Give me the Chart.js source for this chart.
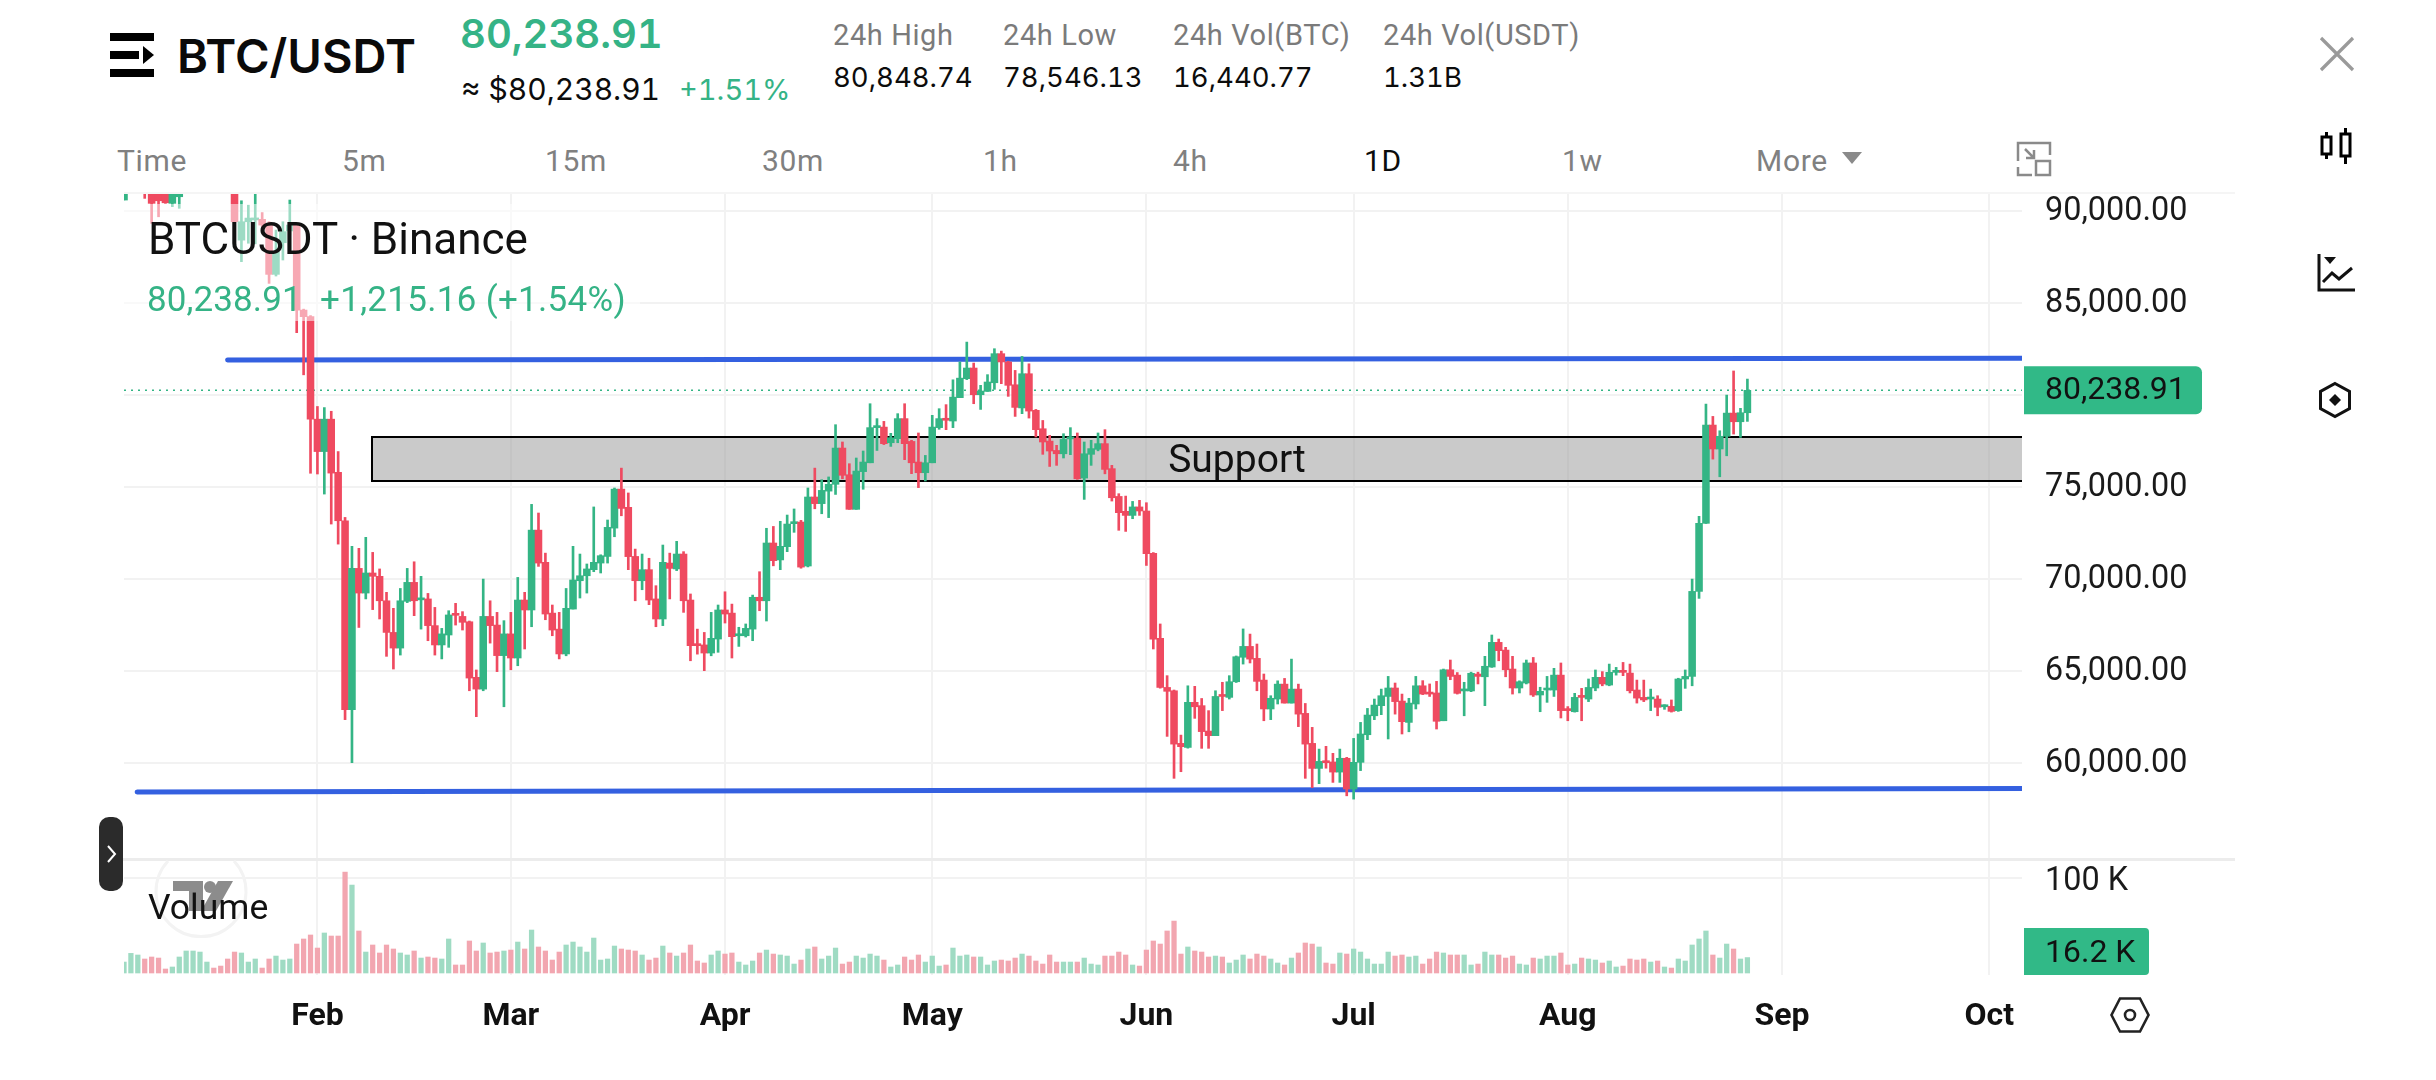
<!DOCTYPE html>
<html>
<head>
<meta charset="utf-8">
<title>BTC/USDT</title>
<script src="https://cdn.jsdelivr.net/npm/chart.js@4"></script>
<style>
  html, body { margin: 0; padding: 0; background: #fff; }
  #page { position: relative; width: 2436px; height: 1080px; overflow: hidden; background: #fff; font-family: Inter, sans-serif; font-variant-numeric: tabular-nums; }
  #page canvas { position: absolute; left: 0; }
  .t { position: absolute; white-space: nowrap; transform: translateY(-50%); line-height: 1; }
  .green { color: #35b386; }
  .hd { font-size: 29px; color: #7b7b7b; font-family: Roboto, sans-serif; letter-spacing: 0.6px; }
  .val { font-size: 27.5px; color: #0c0c0c; font-family: Inter, sans-serif; }
  .tab { font-size: 30px; color: #808080; font-family: Roboto, sans-serif; letter-spacing: 0.7px; }
  .line { position: absolute; }
  svg { position: absolute; overflow: visible; }
</style>
</head>
<body>
<div id="page">
  <canvas id="priceChart" width="2436" height="665" style="top:194px"></canvas>
  <canvas id="volumeChart" width="2436" height="220" style="top:860px"></canvas>

  <div class="line" style="left:124px;top:192px;width:2111px;height:2px;background:#f5f5f5"></div>
  <div class="line" style="left:100px;top:858px;width:2135px;height:3px;background:#ececec"></div>

  <!-- cabecera -->
  <svg style="left:110px;top:33px" width="44" height="44" viewBox="0 0 44 44">
    <rect x="0" y="0" width="44" height="8" fill="#000"/>
    <rect x="0" y="18" width="29" height="8" fill="#000"/>
    <rect x="0" y="36" width="44" height="8" fill="#000"/>
    <path d="M33 13 L44 22 L33 31 Z" fill="#000"/>
  </svg>
  <div class="t" style="left:177px;top:55px;font-size:47px;font-weight:600;color:#0a0a0a;font-family:Inter,sans-serif">BTC/USDT</div>
  <div class="t green" style="left:460px;top:34px;font-size:40px;font-weight:600;font-family:Inter,sans-serif">80,238.91</div>
  <div class="t" style="left:461px;top:89px;font-size:30px;color:#0c0c0c;font-family:Inter,sans-serif">≈ $80,238.91</div>
  <div class="t green" style="left:679px;top:89px;font-size:29px;font-family:Inter,sans-serif">+1.51%</div>

  <div class="t hd" style="left:833px;top:35px">24h High</div>
  <div class="t val" style="left:833px;top:78px">80,848.74</div>
  <div class="t hd" style="left:1003px;top:35px">24h Low</div>
  <div class="t val" style="left:1003px;top:78px">78,546.13</div>
  <div class="t hd" style="left:1173px;top:35px">24h Vol(BTC)</div>
  <div class="t val" style="left:1173px;top:78px">16,440.77</div>
  <div class="t hd" style="left:1383px;top:35px">24h Vol(USDT)</div>
  <div class="t val" style="left:1383px;top:78px">1.31B</div>

  <div class="t tab" style="left:117px;top:161px">Time</div>
  <div class="t tab" style="left:342px;top:161px">5m</div>
  <div class="t tab" style="left:545px;top:161px">15m</div>
  <div class="t tab" style="left:762px;top:161px">30m</div>
  <div class="t tab" style="left:983px;top:161px">1h</div>
  <div class="t tab" style="left:1173px;top:161px">4h</div>
  <div class="t tab" style="left:1364px;top:161px;color:#0c0c0c">1D</div>
  <div class="t tab" style="left:1562px;top:161px">1w</div>
  <div class="t tab" style="left:1756px;top:161px">More</div>
  <svg style="left:1842px;top:152px" width="20" height="12" viewBox="0 0 20 12"><path d="M0 0 H20 L10 12 Z" fill="#8a8a8a"/></svg>
  <svg style="left:2016px;top:141px" width="36" height="36" viewBox="0 0 36 36" fill="none" stroke="#8a8a8a" stroke-width="2.5">
    <path d="M2 20 V2 H34 V14"/><path d="M2 26 V34 H16"/><rect x="20" y="20" width="14" height="14"/><path d="M9 8 L18 17 M18 9 V17 H10"/>
  </svg>

  <svg style="left:2320px;top:38px" width="34" height="32" viewBox="0 0 34 32" stroke="#9a9a9a" stroke-width="3.2"><path d="M1 0 L33 32 M33 0 L1 32"/></svg>
  <svg style="left:2320px;top:128px" width="32" height="36" viewBox="0 0 32 36" fill="none" stroke="#000" stroke-width="3">
    <rect x="2" y="9" width="9" height="17"/><path d="M6.5 4 V9 M6.5 26 V31"/>
    <rect x="21" y="6" width="9" height="22"/><path d="M25.5 0 V6 M25.5 28 V36"/>
  </svg>
  <svg style="left:2317px;top:254px" width="38" height="38" viewBox="0 0 38 38" fill="none" stroke="#111" stroke-width="3">
    <path d="M2 0 V36 H38"/><path d="M6 28 L15 19 L22 25 L35 14"/><path d="M7 3 H19 L13 10 Z" fill="#111" stroke="none"/>
  </svg>
  <svg style="left:2319px;top:382px" width="32" height="36" viewBox="0 0 32 36" fill="none" stroke="#111" stroke-width="3">
    <path d="M16 1.5 L30.5 9.5 V26.5 L16 34.5 L1.5 26.5 V9.5 Z"/><path d="M16 12 L22 18 L16 24 L10 18 Z" fill="#111" stroke="none"/>
  </svg>
  <svg style="left:2110px;top:997px" width="40" height="36" viewBox="0 0 40 36" fill="none" stroke="#222" stroke-width="2.6">
    <path d="M10 1.5 H30 L38.5 18 L30 34.5 H10 L1.5 18 Z"/><circle cx="20" cy="18" r="5"/>
  </svg>

  <!-- leyenda -->
  <div class="t" style="left:148px;top:239px;font-size:44px;color:#111;font-family:Roboto,sans-serif">BTCUSDT · Binance</div>
  <div class="t green" style="left:147px;top:299px;font-size:35px;letter-spacing:0.1px;font-family:Roboto,sans-serif">80,238.91</div>
  <div class="t green" style="left:320px;top:299px;font-size:35px;letter-spacing:0.3px;font-family:Roboto,sans-serif">+1,215.16 (+1.54%)</div>

  <!-- marca de agua y tirador -->
  <svg style="left:156px;top:861px" width="92" height="92" viewBox="0 0 92 92" fill="none">
    <path d="M12 0 A45 45 0 1 0 78 0" stroke="#f3f3f3" stroke-width="3"/>
    <path d="M17 20 H47 V50 H33 V30 H17 Z" fill="#8c8c8c"/>
    <circle cx="54" cy="26" r="6" fill="#8c8c8c"/>
    <path d="M62 20 H77 L60 50 H45 Z" fill="#8c8c8c"/>
  </svg>
  <div class="t" style="left:148px;top:908px;font-size:35.5px;color:#111;font-family:Roboto,sans-serif">Volume</div>
  <div style="position:absolute;left:99px;top:817px;width:24px;height:74px;background:#2b2b2b;border-radius:10px"></div>
  <svg style="left:107px;top:845px" width="10" height="18" viewBox="0 0 10 18" fill="none" stroke="#fff" stroke-width="2"><path d="M1 1 L8 9 L1 17"/></svg>
</div>

<script>
// velas diarias
const opens = [
  90580,91500,93300,93700,91300,91000,90900,90400,90760,91500,
  92500,94000,95500,96500,95800,95200,93500,88400,89400,89500,
  89530,89220,86540,88260,88900,89220,84600,84240,78670,76910,
  78670,75780,73150,62880,70560,69220,70310,70130,68800,67080,
  66230,68770,69800,68850,68900,67450,66400,66940,68080,67950,
  67660,64640,64000,67950,67480,65820,67000,65690,68840,68300,
  72640,70890,68130,67260,65910,68350,69890,70160,70490,70850,
  71210,72750,74870,73880,71210,69890,70490,68900,67810,70850,
  70530,71340,68840,66410,66400,65960,66720,68300,68130,66900,
  66900,67260,68990,68800,71940,71020,71740,72990,73080,70690,
  74440,74080,74760,75130,77100,75650,73770,75820,76300,78210,
  78240,77390,77610,78700,77460,76340,75760,76300,78210,78700,
  78570,79840,80870,81450,80000,80180,80650,82230,81780,80540,
  79280,81140,79150,78150,77480,76970,76790,77600,77640,75470,
  76760,77030,77340,75980,74470,73660,73440,73900,73680,71380,
  66760,64090,63910,61050,60830,63280,63100,61720,61470,63660,
  63550,64400,65730,66320,65670,64490,62920,63460,64270,63240,
  64000,62680,61050,59690,60060,60040,59490,60240,58570,60020,
  61520,62550,63100,63600,64060,63350,62190,63190,64180,63790,
  63790,62280,65050,64760,63900,63900,64820,64670,65200,66540,
  66120,65090,64060,64330,65420,63680,63950,63950,64760,62880,
  62770,63600,63460,64060,64640,64220,64910,64960,64870,63950,
  63550,63460,63460,63040,63060,62830,64550,64690,69310,73010,
  78350,77050,77740,79000,78530,79020
];
const highs = [
  91800,93800,94500,94700,92000,91500,91200,91800,92000,93000,
  94600,96000,97200,97000,96400,95600,93800,90540,90300,91100,
  89900,89400,88950,89400,90580,89300,84650,84300,79360,79300,
  79100,76910,73330,71760,71650,72250,71430,70530,69260,68390,
  69470,70560,70920,70130,69200,68440,67300,68260,68660,68210,
  67700,65040,69980,68800,68170,67720,68170,70070,69260,74040,
  73570,71390,68570,68170,69470,71760,71340,70800,73900,71300,
  73190,74930,76010,74660,71610,71340,71110,69620,71830,71390,
  72030,71470,69170,67260,67080,68170,68570,69290,68620,67360,
  67540,69110,70380,72740,72840,73120,73460,73790,73170,74930,
  76010,75380,75530,78370,77430,76250,76560,76940,79510,78700,
  78550,77900,78970,79510,77520,77920,76700,78880,79240,79460,
  80810,81780,82860,81720,80510,81090,82500,82370,81820,81320,
  82080,81680,79200,78600,77790,77250,77880,78210,77920,77430,
  77520,77920,78100,76160,74620,74490,74200,74260,74130,71420,
  67540,64730,63950,61500,64180,64150,63490,62830,63910,64370,
  64730,65800,67270,66990,66450,64820,63640,64450,64580,65630,
  64270,63220,61920,60740,60890,60510,60740,60290,61320,62190,
  62950,63460,64000,64690,64330,63730,63500,64690,64460,64280,
  64420,65090,65580,64900,64370,64920,64920,65780,66940,66720,
  66270,65780,64450,65580,65720,64100,64690,65130,65420,63050,
  63770,64040,64550,65040,64950,65360,65180,65450,65360,64490,
  64490,64000,63640,63150,63410,64590,65040,69980,73390,79490,
  78820,78040,79980,81290,79260,80850
];
const lows = [
  90580,91300,92800,90670,89310,89670,90400,90220,90130,91300,
  92200,93800,95200,95300,94700,92900,89300,87230,88230,88200,
  89100,86050,86450,87320,88700,83370,81080,75730,75690,74600,
  72970,71880,62340,60000,67350,68900,68320,67810,65780,65090,
  65850,68700,67990,67260,66630,65850,65640,66270,67480,67210,
  63910,62500,63910,66500,64950,63040,65050,65270,66180,67390,
  70670,67770,66900,65640,65810,68350,68950,69220,70380,70310,
  70850,72280,73420,70490,68800,69400,68590,67390,67450,68900,
  70440,68170,65540,65900,65000,65810,66000,67590,65690,66320,
  66830,66630,68260,67700,70700,70490,71470,72520,70570,70640,
  73800,73530,73320,74580,75430,73770,73770,74860,76300,76970,
  77290,77190,77390,76470,75710,74950,75310,76300,78120,78100,
  78210,79840,80820,79510,79200,80180,80290,80600,79910,78820,
  78970,78730,77700,76760,76100,76160,76560,76740,75400,74310,
  76160,76950,75700,74220,72630,72570,73260,73440,70720,66180,
  64050,61430,59150,59510,60790,62410,60780,60780,61470,62830,
  63460,64360,65360,65420,63910,62280,62340,63190,63240,63240,
  61960,59150,58640,58860,59700,58930,58930,58200,58020,59570,
  61250,62340,62610,61290,62640,61560,61680,62920,63700,63600,
  61830,62280,64510,63730,62550,63860,64280,63100,65180,65540,
  64670,63730,63790,64280,63600,62770,63280,63600,62430,62280,
  62750,62280,63320,63910,64180,64180,64760,64730,63790,63240,
  63320,62830,62550,62900,62750,62790,64040,64180,68930,73000,
  76500,75540,76680,77860,77680,78550
];
const closes = [
  91500,93300,93700,91300,90400,90540,90430,91000,91500,92500,
  94000,95500,96500,95800,95200,93500,89400,89400,89600,89600,
  89220,86540,87770,88860,89220,84600,84240,78670,76910,78670,
  75740,73150,62880,70560,69220,70310,70130,68800,67080,66230,
  68800,69800,68800,68900,67450,66400,67000,68030,68010,67630,
  64600,64000,67950,67450,65820,67000,65690,68840,68300,72640,
  70850,68080,67210,65910,68390,69930,70160,70530,70890,71250,
  72790,74870,73820,71200,69890,70490,68840,67810,70890,70560,
  71340,68800,66360,66360,65960,66760,68300,68080,66850,66960,
  67300,68990,68800,71940,70980,71760,72970,73060,70630,74440,
  74080,74800,75130,77100,75620,73770,75850,76340,78210,78260,
  77340,77660,78700,77340,76300,75760,76300,78240,78700,78610,
  79870,80900,81450,80000,80200,80690,82230,81780,80510,79310,
  81140,79110,78100,77430,76940,76790,77570,77640,75430,76790,
  77070,77340,75940,74400,73590,73440,73900,73680,71360,66720,
  64090,63880,61010,60870,63280,63040,61690,61470,63600,63600,
  64400,65760,66320,65630,64420,62920,63500,64270,63240,64000,
  62640,61010,59690,60070,60000,59490,60240,58570,60020,61560,
  62590,63130,63640,64060,63320,62230,63240,64180,63730,63730,
  62250,65050,64690,63770,63950,64860,64690,65240,66540,66090,
  65050,64060,64400,65420,63680,63880,64000,64760,62830,62830,
  63550,63550,64090,64640,64280,64910,64960,64910,63910,63510,
  63410,63510,63010,63090,62790,64550,64690,69310,73010,78350,
  77050,77740,79000,78530,79020,80238.91
];
// volumen en miles de BTC
const volumes = [
  11.5,20.6,18.9,14.7,16.8,15.7,4.2,6.3,16.8,23.1,
  23.1,22.0,11.5,5.2,7.3,14.7,22.0,21.0,11.5,14.7,
  5.2,14.7,17.8,13.6,14.7,30.4,35.7,39.9,26.2,42.0,
  38.8,38.8,105.9,92.3,44.1,22.0,29.4,21.0,29.4,25.2,
  21.0,18.9,23.1,15.7,16.8,15.7,14.7,35.7,8.4,8.4,
  33.6,23.1,31.5,21.0,22.0,23.1,24.1,32.5,25.2,45.1,
  27.3,23.1,13.6,22.0,29.4,32.5,27.3,22.0,36.7,13.6,
  14.7,28.3,25.2,24.1,23.1,18.9,13.6,15.7,28.3,21.0,
  17.8,21.0,29.4,12.6,10.5,18.9,23.1,19.9,21.0,11.5,
  8.4,12.6,21.0,24.1,19.9,18.9,17.8,9.4,13.6,25.2,
  27.3,14.7,17.8,26.2,9.4,11.5,17.8,15.7,19.9,17.8,
  13.6,6.3,8.4,16.8,13.6,18.9,11.5,17.8,7.3,8.4,
  26.2,17.8,18.9,16.8,16.8,8.4,12.6,13.6,12.6,15.7,
  19.9,17.8,12.6,9.4,18.9,11.5,11.5,11.5,11.5,15.7,
  9.4,8.4,17.8,17.8,22.0,18.9,8.4,7.3,24.1,33.6,
  30.4,44.1,54.5,19.9,27.3,23.1,22.0,16.8,17.8,16.8,
  10.5,13.6,18.9,14.7,19.9,17.8,14.7,10.5,8.4,15.7,
  21.0,31.5,30.4,27.3,10.5,9.4,21.0,19.9,25.2,22.0,
  14.7,9.4,9.4,22.0,17.8,18.9,16.8,17.8,9.4,14.7,
  22.0,21.0,18.9,18.9,18.9,8.4,9.4,22.0,18.9,18.9,
  15.7,17.8,9.4,8.4,15.7,14.7,17.8,17.8,21.0,8.4,
  9.4,15.7,14.7,13.6,10.5,12.6,6.3,7.3,14.7,13.6,
  14.7,11.5,12.6,6.3,5.2,14.7,12.6,29.4,35.7,44.1,
  18.9,15.7,30.4,25.2,14.7,16.2
];

const monthLabels = ['Feb', 'Mar', 'Apr', 'May', 'Jun', 'Jul', 'Aug', 'Sep', 'Oct'];
const monthDays = [28, 56, 87, 117, 148, 178, 209, 240, 270];
const priceTicks = [90000, 85000, 80000, 75000, 70000, 65000, 60000];
const volumeTicks = [100];

// lineas dibujadas a mano sobre el grafico
const topLineX = [15, 274.75];
const topLineY = [81886, 81985];
const bottomLineX = [1.9, 274.75];
const bottomLineY = [58408, 58598];
const supportStart = 35.9;
const supportLow = 75310;
const supportHigh = 77700;
const supportLabel = 'Support';

const lastClose = closes[closes.length - 1];
const lastVolume = volumes[volumes.length - 1];
const xMax = 274.75;

const green = '#34b585';
const red = '#ef4a60';
const gridColor = '#f2f2f2';
const colorOf = (i) => closes[i] >= opens[i] ? green : red;

function xAxis(height, showLabels) {
    return {
        type: 'linear',
        min: 0,
        max: xMax,
        bounds: 'data',
        offset: false,
        grid: { color: gridColor, lineWidth: 2, offset: false, drawTicks: false },
        border: { display: false },
        ticks: {
            display: showLabels,
            autoSkip: false,
            maxRotation: 0,
            padding: 23,
            color: '#111',
            font: { family: 'Roboto', size: 32, weight: 'bold' },
            callback: (v) => monthLabels[monthDays.indexOf(v)]
        },
        afterBuildTicks: (scale) => { scale.ticks = monthDays.map(v => ({ value: v })); },
        afterFit: (scale) => { scale.height = height; scale.paddingLeft = 0; scale.paddingRight = 0; }
    };
}

function yAxis(min, max, values, labelOffset, format) {
    return {
        position: 'right',
        min: min,
        max: max,
        bounds: 'data',
        grid: { color: gridColor, lineWidth: 2, drawTicks: false },
        border: { display: false },
        ticks: {
            padding: 23,
            labelOffset: labelOffset,
            color: '#1a1a1a',
            font: { family: 'Roboto', size: 32.4 },
            callback: format
        },
        afterBuildTicks: (scale) => { scale.ticks = values.map(v => ({ value: v })); },
        // sin esto el eje reserva margen arriba y abajo para sus etiquetas
        afterFit: (scale) => { scale.width = 414; scale.paddingTop = 0; scale.paddingBottom = 0; }
    };
}

// etiqueta verde del ultimo valor, en el eje derecho
function lastValueTag(ctx, area, y, h, w, radius, text, textShift) {
    const top = Math.min(area.bottom - h, y - h / 2);
    ctx.save();
    ctx.fillStyle = '#31b987';
    ctx.beginPath();
    ctx.roundRect(area.right + 2, top, w, h, [0, radius, radius, 0]);
    ctx.fill();
    ctx.fillStyle = '#111';
    ctx.font = '32px Roboto';
    ctx.textBaseline = 'middle';
    ctx.textAlign = 'left';
    ctx.fillText(text, area.right + 23, top + h / 2 + textShift);
    ctx.restore();
}

const supportZone = {
    id: 'supportZone',
    beforeDatasetsDraw(chart) {
        const { ctx, scales: { x, y }, chartArea } = chart;
        const left = x.getPixelForValue(supportStart);
        const top = y.getPixelForValue(supportHigh);
        const bottom = y.getPixelForValue(supportLow);
        ctx.save();
        ctx.fillStyle = 'rgba(150, 150, 150, 0.5)';
        ctx.fillRect(left, top, chartArea.right - left, bottom - top);
        ctx.strokeStyle = '#000';
        ctx.lineWidth = 2;
        ctx.beginPath();
        ctx.moveTo(chartArea.right, top);
        ctx.lineTo(left, top);
        ctx.lineTo(left, bottom);
        ctx.lineTo(chartArea.right, bottom);
        ctx.stroke();
        ctx.restore();
    },
    afterDatasetsDraw(chart) {
        const { ctx, scales: { x, y }, chartArea } = chart;
        ctx.save();
        // velo blanco de la leyenda
        ctx.fillStyle = 'rgba(255, 255, 255, 0.52)';
        ctx.fillRect(chartArea.left, 10, 516, 117);
        ctx.fillStyle = '#111';
        ctx.font = '39px Roboto';
        ctx.textAlign = 'center';
        ctx.textBaseline = 'middle';
        ctx.fillText(supportLabel, 1237, (y.getPixelForValue(supportHigh) + y.getPixelForValue(supportLow)) / 2 + 3);
        ctx.restore();
        lastValueTag(ctx, chartArea, y.getPixelForValue(lastClose), 48, 178, 6, lastClose.toLocaleString('en-US', { minimumFractionDigits: 2 }), 1);
    }
};

const volumeTag = {
    id: 'volumeTag',
    afterDatasetsDraw(chart) {
        const { ctx, scales: { y }, chartArea } = chart;
        lastValueTag(ctx, chartArea, y.getPixelForValue(lastVolume), 47, 125, 4, lastVolume.toFixed(1) + ' K', 2.5);
    }
};

new Chart(document.getElementById('priceChart'), {
    type: 'bar',
    data: {
        datasets: [
            {
                label: 'Body',
                order: 1,
                grouped: false,
                barThickness: 6.9,
                minBarLength: 2,
                backgroundColor: closes.map((c, i) => colorOf(i)),
                data: closes.map((c, i) => ({ x: i, y: [opens[i], c] }))
            },
            {
                label: 'Wick',
                order: 2,
                grouped: false,
                barThickness: 2,
                backgroundColor: closes.map((c, i) => colorOf(i)),
                data: closes.map((c, i) => ({ x: i, y: [lows[i], highs[i]] }))
            },
            {
                type: 'line',
                label: 'Top',
                order: 3,
                borderColor: '#3460e0',
                borderWidth: 5,
                borderCapStyle: 'round',
                pointRadius: 0,
                data: topLineX.map((v, i) => ({ x: v, y: topLineY[i] }))
            },
            {
                type: 'line',
                label: 'Bottom',
                order: 3,
                borderColor: '#3460e0',
                borderWidth: 5,
                borderCapStyle: 'round',
                pointRadius: 0,
                data: bottomLineX.map((v, i) => ({ x: v, y: bottomLineY[i] }))
            },
            {
                type: 'line',
                label: 'Last',
                order: 4,
                borderColor: green,
                borderWidth: 1.5,
                borderDash: [2, 5],
                pointRadius: 0,
                data: [{ x: 0, y: lastClose }, { x: xMax, y: lastClose }]
            }
        ]
    },
    options: {
        responsive: false,
        animation: false,
        events: [],
        layout: { padding: { left: 124 } },
        plugins: { legend: { display: false }, tooltip: { enabled: false } },
        scales: {
            x: xAxis(0, false),
            y: yAxis(54766, 90908, priceTicks, 1, (v) => v.toLocaleString('en-US', { minimumFractionDigits: 2 }))
        }
    },
    plugins: [supportZone]
});

new Chart(document.getElementById('volumeChart'), {
    type: 'bar',
    data: {
        datasets: [{
            label: 'Volume',
            barThickness: 4.6,
            backgroundColor: closes.map((c, i) => colorOf(i) === green ? '#9fdbc3' : '#f2a6b0'),
            data: volumes.map((v, i) => ({ x: i, y: v }))
        }]
    },
    options: {
        responsive: false,
        animation: false,
        events: [],
        layout: { padding: { left: 124 } },
        plugins: { legend: { display: false }, tooltip: { enabled: false } },
        scales: {
            x: xAxis(105, true),
            y: yAxis(-2.1, 118.6, volumeTicks, 4, (v) => v + ' K')
        }
    },
    plugins: [volumeTag]
});
</script>
</body>
</html>
